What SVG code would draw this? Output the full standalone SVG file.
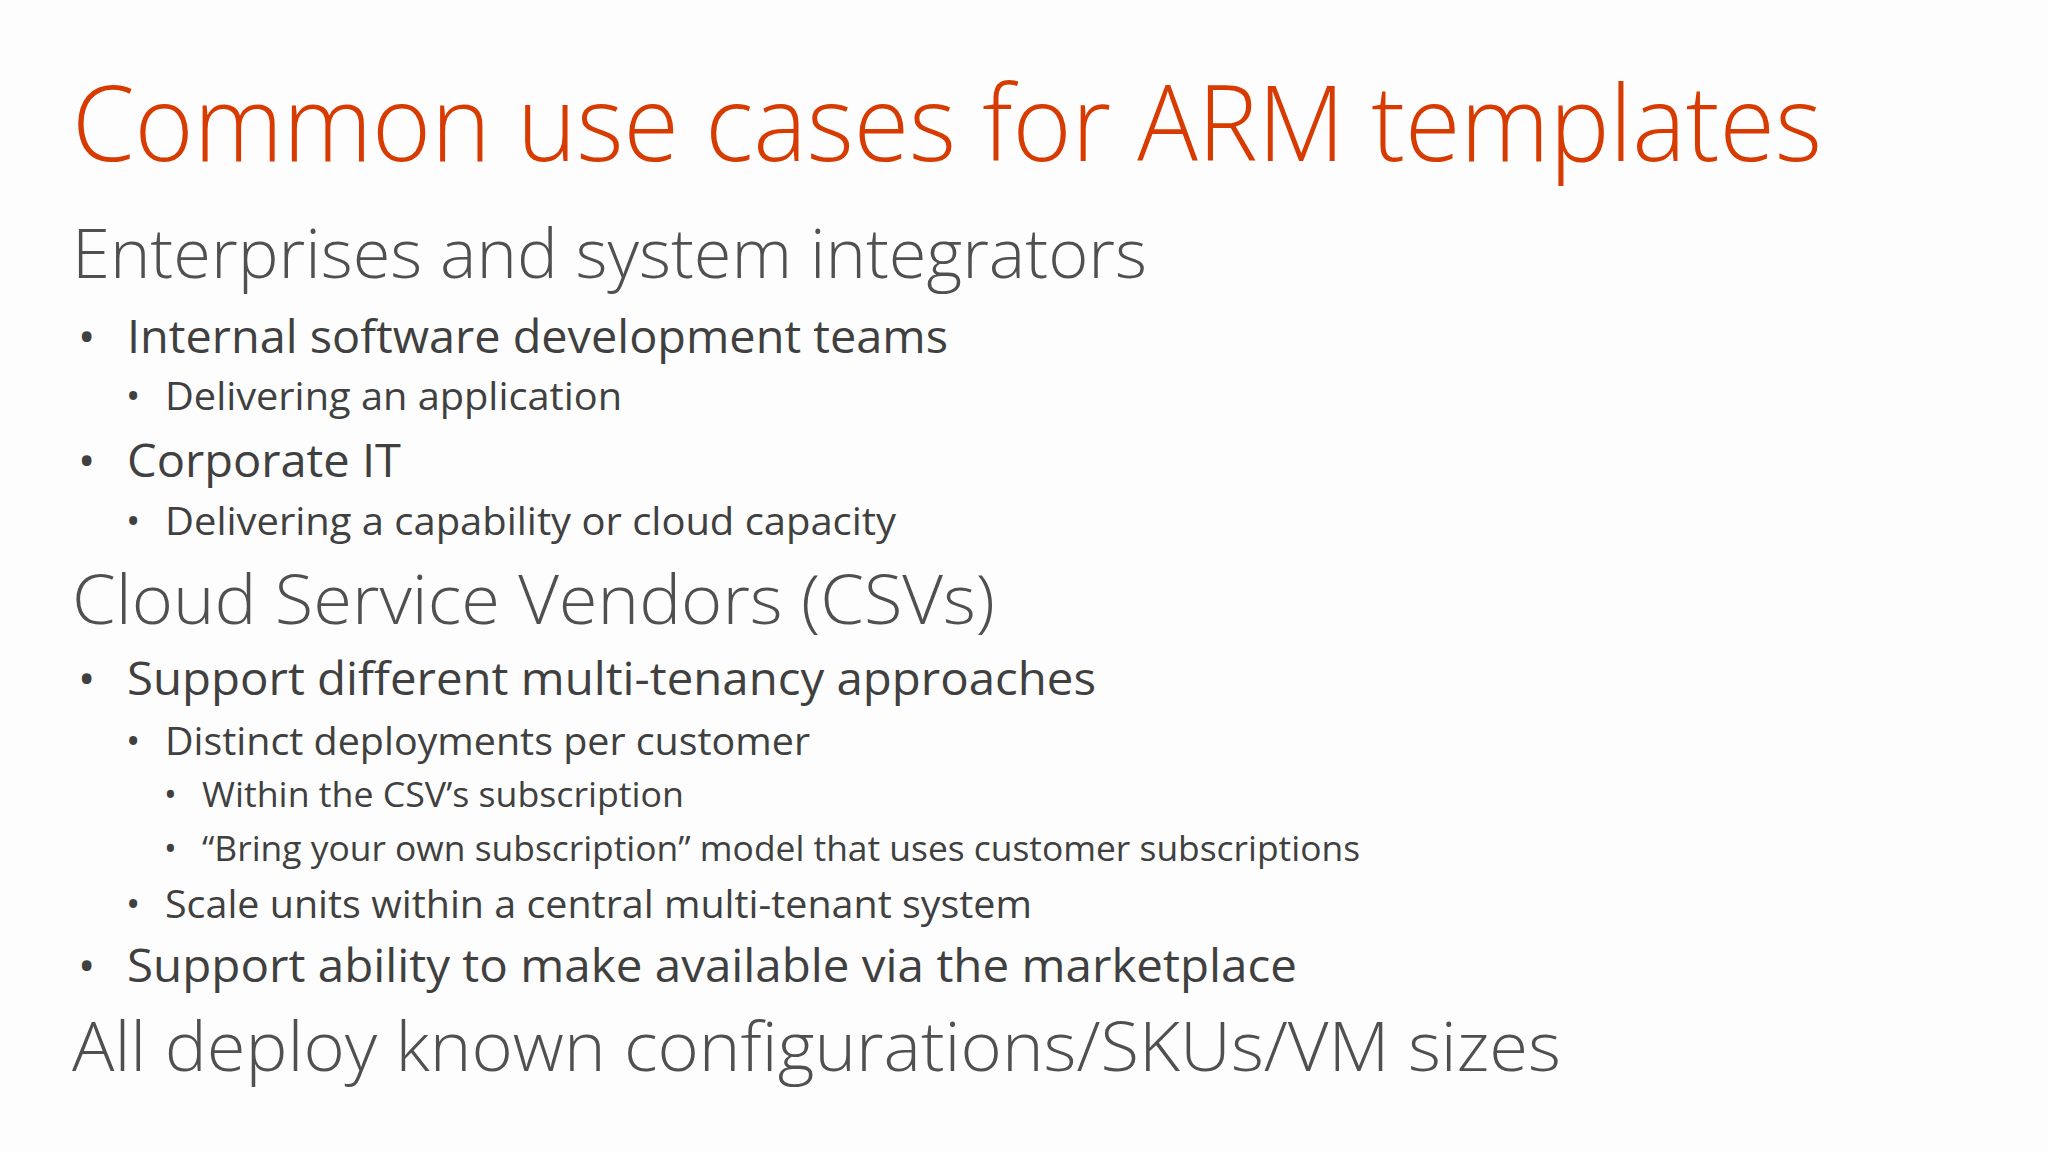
<svg xmlns="http://www.w3.org/2000/svg" width="2048" height="1152" viewBox="0 0 2048 1152">
<style>
text{font-family:"Open Sans","Liberation Sans",sans-serif}
.t{fill:#D83B01;font-size:106px;font-weight:300}
.h{fill:#505050;font-size:68px;font-weight:300}
.b{fill:#404040;font-size:46px}
.s{fill:#404040;font-size:38px}
.u{fill:#404040;font-size:34px}
</style>
<rect width="2048" height="1152" fill="#FDFDFD"/>
<text class="t" x="72" y="161" textLength="1750" lengthAdjust="spacingAndGlyphs">Common use cases for ARM templates</text>
<text class="h" x="72" y="278" textLength="1075" lengthAdjust="spacingAndGlyphs">Enterprises and system integrators</text>
<text class="b" x="78" y="353">•</text>
<text class="b" x="127" y="353" textLength="821" lengthAdjust="spacingAndGlyphs">Internal software development teams</text>
<text class="s" x="126" y="410">•</text>
<text class="s" x="165" y="410" textLength="457" lengthAdjust="spacingAndGlyphs">Delivering an application</text>
<text class="b" x="78" y="477">•</text>
<text class="b" x="127" y="477" textLength="274" lengthAdjust="spacingAndGlyphs">Corporate IT</text>
<text class="s" x="126" y="535">•</text>
<text class="s" x="165" y="535" textLength="731" lengthAdjust="spacingAndGlyphs">Delivering a capability or cloud capacity</text>
<text class="h" x="72" y="624" textLength="923" lengthAdjust="spacingAndGlyphs">Cloud Service Vendors (CSVs)</text>
<text class="b" x="78" y="695">•</text>
<text class="b" x="127" y="695" textLength="969" lengthAdjust="spacingAndGlyphs">Support different multi-tenancy approaches</text>
<text class="s" x="126" y="755">•</text>
<text class="s" x="165" y="755" textLength="645" lengthAdjust="spacingAndGlyphs">Distinct deployments per customer</text>
<text class="u" x="164" y="807">•</text>
<text class="u" x="202" y="807" textLength="482" lengthAdjust="spacingAndGlyphs">Within the CSV’s subscription</text>
<text class="u" x="164" y="861">•</text>
<text class="u" x="202" y="861" textLength="1158" lengthAdjust="spacingAndGlyphs">“Bring your own subscription” model that uses customer subscriptions</text>
<text class="s" x="126" y="918">•</text>
<text class="s" x="165" y="918" textLength="867" lengthAdjust="spacingAndGlyphs">Scale units within a central multi-tenant system</text>
<text class="b" x="78" y="982">•</text>
<text class="b" x="127" y="982" textLength="1170" lengthAdjust="spacingAndGlyphs">Support ability to make available via the marketplace</text>
<text class="h" x="72" y="1071" textLength="1489" lengthAdjust="spacingAndGlyphs">All deploy known configurations/SKUs/VM sizes</text>
</svg>
